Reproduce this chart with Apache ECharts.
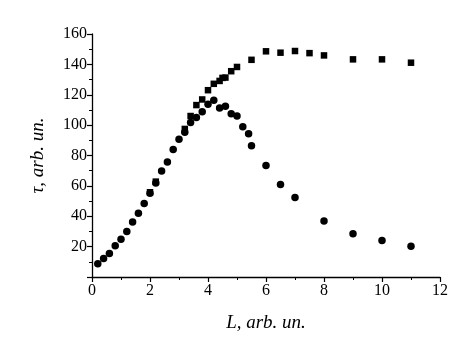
<!DOCTYPE html>
<html>
<head>
<meta charset="utf-8">
<script src="https://cdn.jsdelivr.net/npm/echarts@6/dist/echarts.min.js"></script>
<style>html,body{margin:0;padding:0;background:#fff}#c{width:474px;height:355px}</style>
</head>
<body>
<div id="c"></div>
<script>
// Circles series
const circleX = [0.2,0.4,0.6,0.8,1.0,1.2,1.4,1.6,1.8,2.0,2.2,2.4,2.6,2.8,3.0,3.2,3.4,3.6,3.8,4.0,4.2,4.4,4.6,4.8,5.0,5.2,5.4,5.5,6.0,6.5,7.0,8.0,9.0,10.0,11.0];
const circleY = [8.7,12.2,15.5,20.5,24.9,29.9,36.2,41.9,48.4,55.2,61.9,69.8,75.7,84.0,90.7,95.3,101.8,105.1,108.8,113.7,116.3,111.3,112.5,107.5,106.0,99.0,94.4,86.4,73.4,60.9,52.4,36.8,28.5,24.0,20.3];
// Squares series
const squareX = [2.0,2.2,3.2,3.4,3.6,3.8,4.0,4.2,4.4,4.5,4.6,4.8,5.0,5.5,6.0,6.5,7.0,7.5,8.0,9.0,10.0,11.0];
const squareY = [55.8,62.8,97.5,106.0,113.2,116.9,123.0,127.2,129.1,131.1,131.3,135.5,138.3,143.0,148.6,147.7,148.8,147.4,145.9,143.3,143.3,141.1];
const xTicks = [0,2,4,6,8,10,12];
const yTicks = [20,40,60,80,100,120,140,160];

const chart = echarts.init(document.getElementById('c'), null, {renderer:'canvas'});
const font = 'Liberation Serif';
chart.setOption({
  animation:false,
  backgroundColor:'#fff',
  grid:{left:92, right:34, top:34, bottom:78, containLabel:false},
  xAxis:{
    type:'value', min:0, max:12, interval:2,
    name:'L, arb. un.', nameLocation:'middle', nameGap:36,
    nameTextStyle:{fontFamily:font, fontStyle:'italic', fontSize:19, color:'#000'},
    axisLine:{show:true, onZero:false, lineStyle:{color:'#000', width:1.3}},
    axisTick:{show:true, inside:false, length:5, lineStyle:{color:'#000', width:1.2}},
    minorTick:{show:true, splitNumber:2, length:3, lineStyle:{color:'#000', width:1}},
    axisLabel:{fontFamily:font, fontSize:16, color:'#000', margin:6,
      formatter:v=>xTicks.includes(v)?String(v):''},
    splitLine:{show:false}
  },
  yAxis:{
    type:'value', min:0, max:160, interval:20,
    name:'τ, arb. un.', nameLocation:'middle', nameGap:45, nameRotate:90,
    nameTextStyle:{fontFamily:font, fontStyle:'italic', fontSize:19, color:'#000'},
    axisLine:{show:true, onZero:false, lineStyle:{color:'#000', width:1.3}},
    axisTick:{show:true, inside:false, length:5, lineStyle:{color:'#000', width:1.2}},
    minorTick:{show:true, splitNumber:2, length:3, lineStyle:{color:'#000', width:1}},
    axisLabel:{fontFamily:font, fontSize:16, color:'#000', margin:5,
      formatter:v=>yTicks.includes(v)?String(v):''},
    splitLine:{show:false}
  },
  series:[
    {type:'scatter', symbol:'rect', symbolSize:6.5, itemStyle:{color:'#000', opacity:1},
      data:squareX.map((x,i)=>[x,squareY[i]]), z:2},
    {type:'scatter', symbol:'circle', symbolSize:7.5, itemStyle:{color:'#000', opacity:1},
      data:circleX.map((x,i)=>[x,circleY[i]]), z:3}
  ]
});
</script>
</body>
</html>
